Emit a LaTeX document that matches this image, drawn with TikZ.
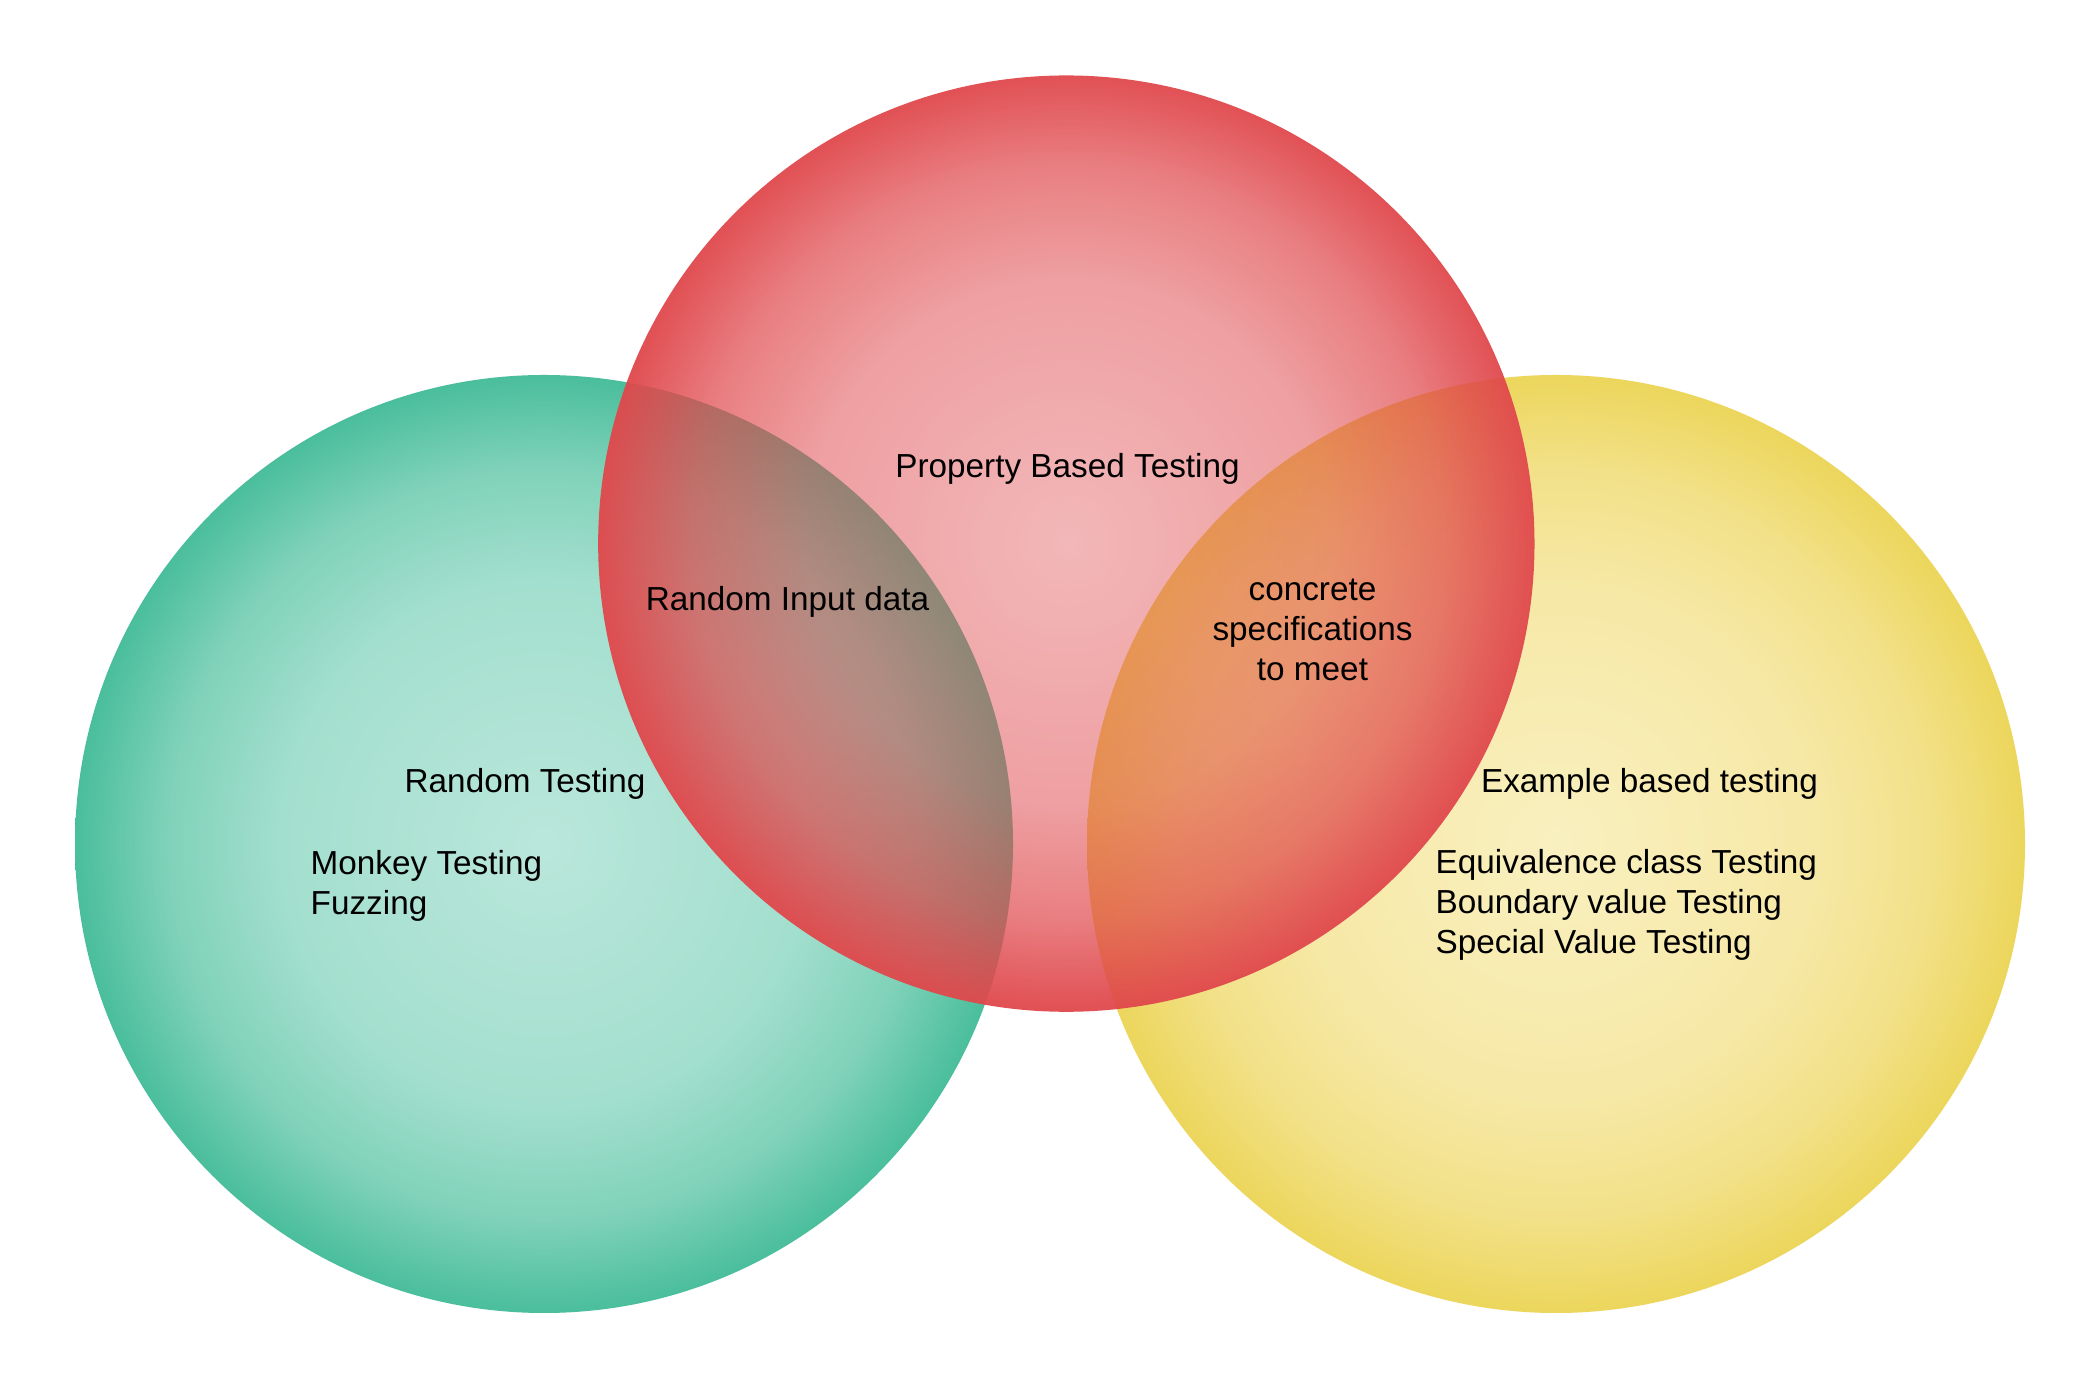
\documentclass[tikz,border=0pt]{standalone}
\usepackage{fontspec}
\setmainfont{Liberation Sans}
\usetikzlibrary{fadings}
\definecolor{greenin}{RGB}{186,231,219}
\definecolor{greenmid}{RGB}{163,223,206}
\definecolor{greenrim}{RGB}{128,210,185}
\definecolor{greenout}{RGB}{74,190,156}
\definecolor{yellowin}{RGB}{249,240,192}
\definecolor{yellowmid}{RGB}{246,232,165}
\definecolor{yellowrim}{RGB}{242,225,136}
\definecolor{yellowout}{RGB}{236,214,92}
\definecolor{redfill}{RGB}{224,72,76}
\pgfdeclareradialshading{greenglow}{\pgfpointorigin}{color(0bp)=(greenin); color(14bp)=(greenmid); color(20bp)=(greenrim); color(25bp)=(greenout); color(50bp)=(greenout)}
\pgfdeclareradialshading{yellowglow}{\pgfpointorigin}{color(0bp)=(yellowin); color(14bp)=(yellowmid); color(20bp)=(yellowrim); color(25bp)=(yellowout); color(50bp)=(yellowout)}
\pgfdeclareradialshading{redmask}{\pgfpointorigin}{color(0bp)=(black!61); color(14bp)=(black!48); color(20bp)=(black!30); color(25bp)=(black!4); color(50bp)=(black!4)}
\pgfdeclarefading{redfade}{\pgfuseshading{redmask}}
\tikzstyle{venntext} = [font=\fontsize{33.3}{40}\selectfont, inner sep=0pt, text=black]
\tikzstyle{titletext} = [venntext, anchor=base]
\tikzstyle{listtext} = [venntext, anchor=north west, align=left]

\begin{document}
\begin{tikzpicture}[x=1pt, y=1pt]

\useasboundingbox (0,0) rectangle (2100,1388);
\fill[white] (0,0) rectangle (2100,1388);

% Circles
\shade[shading=greenglow] (544,544) circle (469);
\shade[shading=yellowglow] (1556,544) circle (469);
\fill[redfill, path fading=redfade] (1068,846) circle (469);

% Labels
\node (pbt) [titletext] at (1067.5,910) {Property Based Testing};
\node (randinput) [titletext] at (787.5,777) {Random Input data};
\node (concrete) [venntext, align=center] at (1312.5,758)
{concrete\\specifications\\to meet};

\node (randtest) [titletext] at (525,595) {Random Testing};
\node (randlist) [listtext] at (310.5,538) {Monkey Testing\\Fuzzing};

\node (exbased) [titletext] at (1649.5,595) {Example based testing};
\node (exlist) [listtext] at (1435.5,538.5)
{Equivalence class Testing\\Boundary value Testing\\Special Value Testing};

\end{tikzpicture}
\end{document}
